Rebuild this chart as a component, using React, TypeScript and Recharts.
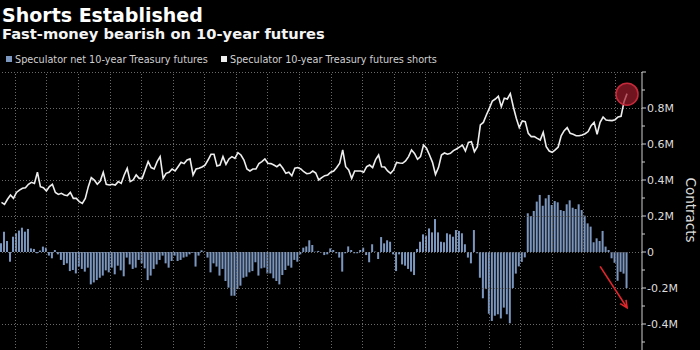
import React from "react";
import {
  ComposedChart,
  Bar,
  Line,
  XAxis,
  YAxis,
  ReferenceDot,
  ReferenceLine,
} from "recharts";

// weekly speculator net position in 10-year futures (millions of contracts)
const netPositions = [
  0.048, 0.113, 0.061, -0.054, 0.085, 0.104, 0.119, 0.135, 0.113, 0.128,
  0.02, 0.017, -0.007, 0.008, 0.03, 0.024, -0.02, -0.035, 0.011, -0.013,
  -0.044, -0.072, -0.063, -0.106, -0.1, -0.119, -0.081, -0.094, -0.109, -0.087,
  -0.18, -0.169, -0.156, -0.143, -0.131, -0.102, -0.113, -0.087, -0.124, -0.076,
  -0.102, -0.135, -0.031, -0.069, -0.094, -0.087, -0.044, -0.063, -0.091, -0.156,
  -0.131, -0.094, -0.069, -0.044, -0.02, -0.063, -0.087, -0.05, -0.02, -0.05,
  -0.044, -0.031, -0.026, -0.013, -0.004, -0.081, -0.02, 0.009, 0.002, -0.031,
  -0.113, -0.063, -0.081, -0.131, -0.094, -0.161, -0.198, -0.243, -0.243, -0.206,
  -0.187, -0.143, -0.137, -0.113, -0.106, -0.057, -0.131, -0.091, -0.087, -0.119,
  -0.119, -0.146, -0.161, -0.18, -0.128, -0.1, -0.076, -0.087, -0.044, -0.054,
  -0.013, 0.024, 0.031, 0.065, 0.039, 0.002, 0.006, -0.002, -0.017, -0.013,
  0.02, 0.011, -0.007, -0.031, -0.109, -0.007, 0.031, 0.011, -0.007, -0.007,
  0.011, 0.024, -0.017, -0.057, 0.043, 0.002, -0.039, 0.083, 0.048, 0.065,
  0.057, -0.013, -0.106, -0.013, -0.069, -0.076, -0.094, -0.109, -0.128, 0.017,
  0.057, 0.098, 0.091, 0.131, 0.109, 0.183, 0.109, 0.057, 0.054, 0.104,
  0.098, 0.085, 0.122, 0.117, 0.104, 0.043, -0.031, -0.063, 0.122, -0.007,
  -0.143, -0.257, -0.206, -0.343, -0.383, -0.354, -0.346, -0.369, -0.309, -0.346,
  -0.396, -0.2, -0.12, -0.08, -0.055, -0.03, 0.215, 0.2, 0.228, 0.28,
  0.317, 0.257, 0.298, 0.317, 0.261, 0.283, 0.276, 0.233, 0.228, 0.265,
  0.287, 0.246, 0.239, 0.265, 0.233, 0.202, 0.159, 0.141, 0.054, 0.076,
  0.061, 0.117, 0.03, 0.011, -0.035, -0.06, -0.16, -0.11, -0.12, -0.2,
];

// weekly speculator shorts in 10-year futures (millions of contracts)
const shortPositions = [
  0.276, 0.265, 0.293, 0.317, 0.298, 0.331, 0.344, 0.354, 0.357, 0.376,
  0.387, 0.381, 0.443, 0.363, 0.357, 0.339, 0.363, 0.376, 0.331, 0.32,
  0.326, 0.317, 0.313, 0.331, 0.298, 0.298, 0.28, 0.27, 0.298, 0.363,
  0.413, 0.4, 0.376, 0.394, 0.443, 0.376, 0.372, 0.376, 0.372, 0.391,
  0.381, 0.428, 0.465, 0.391, 0.4, 0.428, 0.409, 0.409, 0.456, 0.502,
  0.469, 0.461, 0.502, 0.53, 0.409, 0.437, 0.443, 0.461, 0.45, 0.474,
  0.498, 0.491, 0.511, 0.517, 0.428, 0.461, 0.465, 0.472, 0.483, 0.511,
  0.543, 0.543, 0.478, 0.483, 0.53, 0.487, 0.517, 0.53, 0.52, 0.552,
  0.539, 0.511, 0.461, 0.45, 0.461, 0.461, 0.491, 0.502, 0.517, 0.493,
  0.491, 0.483, 0.474, 0.487, 0.465, 0.437, 0.443, 0.424, 0.465, 0.469,
  0.461, 0.446, 0.435, 0.437, 0.45, 0.439, 0.4, 0.413, 0.424, 0.428,
  0.443, 0.45, 0.469, 0.493, 0.567, 0.474, 0.456, 0.409, 0.45, 0.45,
  0.45, 0.443, 0.474, 0.483, 0.469, 0.513, 0.539, 0.474, 0.472, 0.45,
  0.437, 0.456, 0.498, 0.494, 0.493, 0.506, 0.53, 0.567, 0.548, 0.515,
  0.53, 0.594, 0.576, 0.539, 0.498, 0.431, 0.469, 0.539, 0.55, 0.543,
  0.548, 0.563, 0.572, 0.583, 0.594, 0.561, 0.609, 0.613, 0.557, 0.585,
  0.706, 0.72, 0.761, 0.798, 0.839, 0.85, 0.865, 0.807, 0.854, 0.85,
  0.88, 0.807, 0.743, 0.691, 0.728, 0.724, 0.659, 0.641, 0.641, 0.631,
  0.622, 0.665, 0.585, 0.561, 0.554, 0.567, 0.583, 0.646, 0.674, 0.691,
  0.659, 0.654, 0.646, 0.646, 0.65, 0.657, 0.669, 0.702, 0.72, 0.654,
  0.72, 0.75, 0.733, 0.731, 0.73, 0.735, 0.75, 0.754, 0.835, 0.88,
];

const yTicks = [-0.5, -0.4, -0.3, -0.2, -0.1, 0, 0.1, 0.2, 0.3, 0.4, 0.5, 0.6, 0.7, 0.8, 0.9, 1.0];
const gridValues = [-0.4, -0.2, 0, 0.2, 0.4, 0.6, 0.8, 1.0];
// quarter boundaries, in weeks from the first reading
const quarterWeeks = [
  4.6, 15.2, 25.7, 36.3, 46.8, 57.4, 67.9, 78.5, 89.0, 99.6,
  110.1, 120.7, 131.2, 141.8, 152.3, 162.9, 173.4, 184.0, 194.5, 205.1,
];

// annotation: latest reading circled, arrow pointing at the falling net position
const markerValue = 0.877;
const arrowFrom = { week: 200, value: -0.08 };
const arrowTo = { week: 209, value: -0.31 };

const BAR_COLOR = "#7c97bf";
const LINE_COLOR = "#eeeeee";
const AXIS_COLOR = "#cfcfcf";
const GRID_COLOR = "#6a6a6a";

const data = netPositions.map((net, i) => ({
  week: i,
  net,
  shorts: shortPositions[i],
}));
const lastWeek = data[data.length - 1].week;

const YTick = (props: any) => {
  const { x, y, payload } = props;
  const v = payload.value as number;
  const major = Math.round(v * 10) % 2 === 0;
  const label = v === 0 ? "0" : `${v.toFixed(1)}M`;
  return (
    <g>
      <line x1={x} y1={y} x2={x + (major ? 4 : 3)} y2={y} stroke={AXIS_COLOR} strokeWidth={1} />
      {major && v < 0.95 && (
        <text x={x + 5} y={y} dy="0.355em" fill="#dddddd" fontSize={11} fontFamily="DejaVu Sans">
          {label}
        </text>
      )}
    </g>
  );
};

const ArrowShape = (props: any) => {
  const { x1, y1, x2, y2 } = props;
  const ang = Math.atan2(y2 - y1, x2 - x1);
  const head = 8;
  const ax = x2 - head * Math.cos(ang - 0.45);
  const ay = y2 - head * Math.sin(ang - 0.45);
  const bx = x2 - head * Math.cos(ang + 0.45);
  const by = y2 - head * Math.sin(ang + 0.45);
  return (
    <g stroke="#e3262c" strokeWidth={1.6} fill="none">
      <line x1={x1} y1={y1} x2={x2} y2={y2} />
      <polyline points={`${ax},${ay} ${x2},${y2} ${bx},${by}`} />
    </g>
  );
};

// dotted grid line drawn from the reference line's own end points
const GridShape = (props: any) => {
  const { x1, y1, x2, y2 } = props;
  return (
    <line
      x1={x1}
      y1={y1}
      x2={x2}
      y2={y2}
      stroke={GRID_COLOR}
      strokeWidth={1}
      strokeDasharray="1 2"
      shapeRendering="crispEdges"
    />
  );
};

export default function App() {
  return (
    <div
      style={{
        position: "relative",
        width: 700,
        height: 350,
        background: "#000",
        overflow: "hidden",
        fontFamily: "DejaVu Sans",
      }}
    >
      <style>{"body{margin:0;background:#000}"}</style>
      <ComposedChart
        width={700}
        height={351}
        data={data}
        margin={{ top: 72, right: 0, bottom: 0, left: 0 }}
      >
        <XAxis
          dataKey="week"
          type="number"
          domain={[-0.501, 214.0]}
          allowDataOverflow
          hide
        />
        <YAxis
          orientation="right"
          width={58}
          domain={[-0.55, 1.0]}
          ticks={yTicks}
          interval={0}
          allowDataOverflow
          tick={<YTick />}
          tickLine={false}
          tickSize={0}
          tickMargin={0}
          axisLine={{ stroke: AXIS_COLOR }}
        />
        {gridValues.map((v) => (
          <ReferenceLine key={`h${v}`} y={v} ifOverflow="visible" shape={<GridShape />} />
        ))}
        {quarterWeeks.map((w) => (
          <ReferenceLine key={`v${w}`} x={w} ifOverflow="visible" shape={<GridShape />} />
        ))}
        <Bar dataKey="net" fill={BAR_COLOR} barSize={2} isAnimationActive={false} />
        <Line
          dataKey="shorts"
          type="linear"
          stroke={LINE_COLOR}
          strokeWidth={1.6}
          dot={false}
          isAnimationActive={false}
        />
        <ReferenceDot
          x={lastWeek}
          y={markerValue}
          r={11}
          fill="#a01d2e"
          fillOpacity={0.7}
          stroke="#c42a3a"
          strokeWidth={1.5}
        />
        <ReferenceLine
          segment={[
            { x: arrowFrom.week, y: arrowFrom.value },
            { x: arrowTo.week, y: arrowTo.value },
          ]}
          shape={<ArrowShape />}
        />
      </ComposedChart>
      <svg
        width={700}
        height={350}
        style={{ position: "absolute", left: 0, top: 0, pointerEvents: "none" }}
        fontFamily="DejaVu Sans"
      >
        <text x={2} y={22} fontSize={19} fontWeight="bold" fill="#ffffff">
          Shorts Established
        </text>
        <text x={2} y={39} fontSize={14.7} fontWeight="bold" fill="#f4f4f4">
          Fast-money bearish on 10-year futures
        </text>
        <rect x={6} y={56} width={6} height={6} fill={BAR_COLOR} />
        <text x={15} y={63} fontSize={9.7} fill="#d0d0d0">
          Speculator net 10-year Treasury futures
        </text>
        <rect x={221} y={56} width={6} height={6} fill={LINE_COLOR} />
        <text x={230} y={63} fontSize={9.7} fill="#d0d0d0">
          Speculator 10-year Treasury futures shorts
        </text>
        <text
          transform="translate(691,210) rotate(90)"
          textAnchor="middle"
          dominantBaseline="central"
          fontSize={13.5}
          fill="#dddddd"
        >
          Contracts
        </text>
      </svg>
    </div>
  );
}
